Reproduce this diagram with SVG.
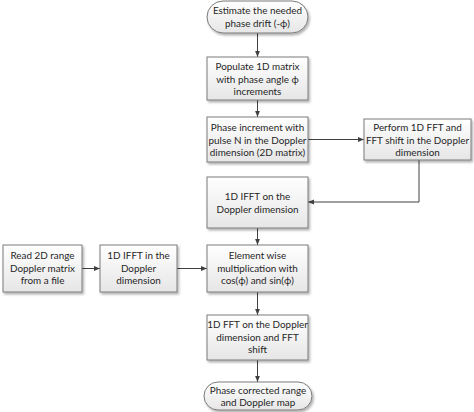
<svg xmlns="http://www.w3.org/2000/svg" width="474" height="412" viewBox="0 0 474 412">
<defs>
<linearGradient id="g" x1="0" y1="0" x2="0" y2="1">
<stop offset="0" stop-color="#ffffff"/>
<stop offset="1" stop-color="#e6e6e6"/>
</linearGradient>
<filter id="sh" x="-10%" y="-10%" width="130%" height="140%">
<feDropShadow dx="1.5" dy="2" stdDeviation="1.2" flood-color="#000" flood-opacity="0.3"/>
</filter>
<marker id="ah" viewBox="0 0 10 10" refX="10" refY="5" markerWidth="6" markerHeight="6" orient="auto" markerUnits="userSpaceOnUse">
<path d="M0,1 L10,5 L0,9 Z" fill="#404040"/>
</marker>
</defs>
<style>
.n{fill:url(#g);stroke:#7a7a7a;stroke-width:1;filter:url(#sh)}
.t{font-family:Lato,"Liberation Sans",sans-serif;font-size:9.9px;fill:#262626;text-anchor:middle}
.c{fill:none;stroke:#404040;stroke-width:1;marker-end:url(#ah)}
</style>
<rect width="474" height="412" fill="#ffffff"/>
<g id="connectors">
<path class="c" d="M257.5,33 V57"/>
<path class="c" d="M257.5,100 V117"/>
<path class="c" d="M308,139.5 H364"/>
<path class="c" d="M419,160 V202 H308"/>
<path class="c" d="M257.5,228 V245"/>
<path class="c" d="M82,268.5 H100"/>
<path class="c" d="M177,268.5 H207"/>
<path class="c" d="M257.5,292 V315"/>
<path class="c" d="M257.5,360 V382"/>
</g>
<g id="start">
<rect class="n" x="207" y="1" width="101" height="32" rx="16"/>
<text class="t" x="257.5" y="14">Estimate the needed</text>
<text class="t" x="257.5" y="27">phase drift (-ϕ)</text>
</g>
<g id="populate">
<rect class="n" x="207" y="57" width="101" height="43"/>
<text class="t" x="257.5" y="70">Populate 1D matrix</text>
<text class="t" x="257.5" y="82.5">with phase angle ϕ</text>
<text class="t" x="257.5" y="95">increments</text>
</g>
<g id="phaseinc">
<rect class="n" x="207" y="117" width="101" height="45"/>
<text class="t" x="257.5" y="131">Phase increment with</text>
<text class="t" x="257.5" y="143.5">pulse N in the Doppler</text>
<text class="t" x="257.5" y="156">dimension (2D matrix)</text>
</g>
<g id="perform">
<rect class="n" x="364" y="119" width="107" height="41"/>
<text class="t" x="417.5" y="131">Perform 1D FFT and</text>
<text class="t" x="417.5" y="143.5">FFT shift in the Doppler</text>
<text class="t" x="417.5" y="156">dimension</text>
</g>
<g id="ifft">
<rect class="n" x="207" y="177" width="101" height="51"/>
<text class="t" x="257.5" y="200">1D IFFT on the</text>
<text class="t" x="257.5" y="212.5">Doppler dimension</text>
</g>
<g id="read">
<rect class="n" x="3" y="245" width="79" height="47"/>
<text class="t" x="42.5" y="259">Read 2D range</text>
<text class="t" x="42.5" y="271.5">Doppler matrix</text>
<text class="t" x="42.5" y="284">from a file</text>
</g>
<g id="ifft2">
<rect class="n" x="100" y="245" width="77" height="47"/>
<text class="t" x="138.5" y="259">1D IFFT in the</text>
<text class="t" x="138.5" y="271.5">Doppler</text>
<text class="t" x="138.5" y="284">dimension</text>
</g>
<g id="element">
<rect class="n" x="207" y="245" width="101" height="47"/>
<text class="t" x="257.5" y="259">Element wise</text>
<text class="t" x="257.5" y="271.5">multiplication with</text>
<text class="t" x="257.5" y="284">cos(ϕ) and sin(ϕ)</text>
</g>
<g id="fft">
<rect class="n" x="207" y="315" width="101" height="45"/>
<text class="t" x="257.5" y="328">1D FFT on the Doppler</text>
<text class="t" x="257.5" y="340.5">dimension and FFT</text>
<text class="t" x="257.5" y="353">shift</text>
</g>
<g id="end">
<rect class="n" x="204" y="382" width="108" height="28" rx="14"/>
<text class="t" x="258" y="393.5">Phase corrected range</text>
<text class="t" x="258" y="406">and Doppler map</text>
</g>
</svg>
